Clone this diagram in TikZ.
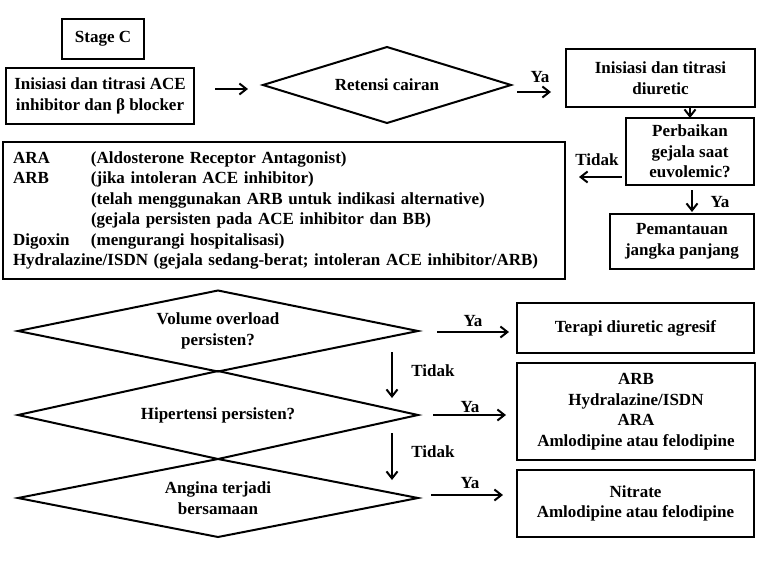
\documentclass[tikz,border=0pt]{standalone}
\usepackage{fontspec}
\setmainfont{Liberation Serif}
\usetikzlibrary{shapes.geometric,arrows.meta,calc}
\tikzset{
  box/.style={draw, line width=2pt, rectangle, inner sep=0pt, outer sep=0pt, align=center},
  dia/.style={draw, line width=2pt, diamond, inner sep=1pt, outer sep=0pt, align=center, aspect=4.8},
  arr/.style={line width=2pt, -{Straight Barb[length=7pt,width=11pt]}},
  lab/.style={inner sep=0pt, outer sep=0pt}
}
\begin{document}
\begin{tikzpicture}[x=1pt, y=-1pt, font=\bfseries\fontsize{17}{20.5}\selectfont]
\useasboundingbox (0,0) rectangle (768,576);
% top section
\node[box, minimum width=82pt, minimum height=40pt] (stage) at (103,39) {Stage C};
\node[box, minimum width=188pt, minimum height=56pt] (ace) at (100,96) {Inisiasi dan titrasi ACE\\inhibitor dan β blocker};
\node[dia, aspect=3.3, minimum width=248pt, minimum height=76pt] (retensi) at (387,85) {Retensi cairan};
\node[box, minimum width=189pt, minimum height=58pt] (diuretic) at (660.5,78) {Inisiasi dan titrasi\\diuretic};
\node[box, minimum width=128pt, minimum height=67pt] (perbaikan) at (690,151.5) {Perbaikan\\gejala saat\\euvolemic?};
\node[box, minimum width=144pt, minimum height=55pt] (pemantauan) at (682,241.5) {Pemantauan\\jangka panjang};
\node[box, minimum width=562pt, minimum height=137pt, align=left, text width=542pt] (list) at (284,210.5)
 {\makebox[78pt][l]{ARA}(Aldosterone Receptor Antagonist)\\
  \makebox[78pt][l]{ARB}(jika intoleran ACE inhibitor)\\
  \hspace*{78pt}(telah menggunakan ARB untuk indikasi alternative)\\
  \hspace*{78pt}(gejala persisten pada ACE inhibitor dan BB)\\
  \makebox[78pt][l]{Digoxin}(mengurangi hospitalisasi)\\
  Hydralazine/ISDN (gejala sedang-berat; intoleran ACE inhibitor/ARB)};
% bottom section
\node[dia, minimum width=400pt, minimum height=81pt] (d1) at (218,331) {Volume overload\\persisten?};
\node[dia, minimum width=400pt, minimum height=88pt] (d2) at (218,415) {Hipertensi persisten?};
\node[dia, minimum width=400pt, minimum height=78pt] (d3) at (218,498) {Angina terjadi\\bersamaan};
\node[box, minimum width=237pt, minimum height=50pt] (terapi) at (635.5,328) {Terapi diuretic agresif};
\node[box, minimum width=238pt, minimum height=97pt] (arb) at (636,411.5) {ARB\\Hydralazine/ISDN\\ARA\\Amlodipine atau felodipine};
\node[box, minimum width=237pt, minimum height=67pt] (nitrate) at (635.5,503.5) {Nitrate\\Amlodipine atau felodipine};
% connectors
\draw[arr] ($(ace.east)+(21,-7)$) -- ($(retensi.west)+(-15,4)$);
\draw[arr] ($(retensi.east)+(6,7)$) -- ($(diuretic.west)+(-15,14)$);
\node[lab] (ya1) at (540,77) {Ya};
\draw[arr] (diuretic.south -| perbaikan.north) -- (perbaikan.north);
\draw[arr] ($(perbaikan.west)+(-4,25.5)$) -- ($(list.east)+(14,-33.5)$);
\node[lab] (tidak1) at (597,160) {Tidak};
\draw[arr] ($(perbaikan.south)+(2,5)$) -- ($(pemantauan.north)+(10,-2)$);
\node[lab] (ya2) at (720,202) {Ya};
\draw[arr] ($(d1.east)+(19,1)$) -- ($(terapi.west)+(-8,4)$);
\node[lab] (ya3) at (473,321) {Ya};
\draw[arr] ($(d1.east)+(-26,21)$) -- ($(d2.east)+(-26,-17)$);
\node[lab] (tidak2) at (433,371) {Tidak};
\draw[arr] ($(d2.east)+(15,0)$) -- ($(arb.west)+(-11,3.5)$);
\node[lab] (ya4) at (470,407) {Ya};
\draw[arr] ($(d2.east)+(-26,18)$) -- ($(d3.east)+(-26,-18)$);
\node[lab] (tidak3) at (433,452) {Tidak};
\draw[arr] ($(d3.east)+(13,-3)$) -- ($(nitrate.west)+(-14,-8.5)$);
\node[lab] (ya5) at (470,483) {Ya};
\end{tikzpicture}
\end{document}
